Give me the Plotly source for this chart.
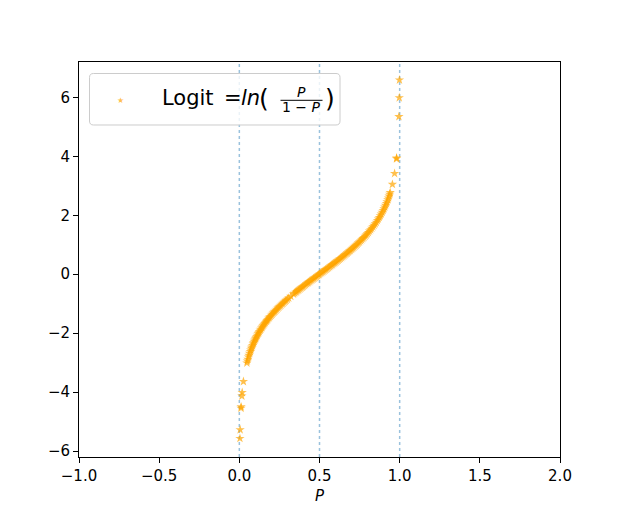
import numpy as np
import plotly.graph_objects as go

# Probabilities (x positions of the stars)
p_values = [
    0.0038, 0.0051, 0.0105, 0.0110, 0.0158, 0.0178, 0.0256,
    0.047, 0.050, 0.053, 0.057, 0.060, 0.064, 0.068, 0.071, 0.075, 0.078,
    0.082, 0.086, 0.089, 0.093, 0.097, 0.101, 0.104, 0.108, 0.112, 0.117,
    0.121, 0.125, 0.130, 0.134, 0.139, 0.143, 0.148, 0.153, 0.158, 0.163,
    0.168, 0.172, 0.177, 0.183, 0.188, 0.193, 0.199, 0.205, 0.211, 0.217,
    0.222, 0.228, 0.234, 0.241, 0.247, 0.253, 0.259, 0.266, 0.272, 0.279,
    0.286, 0.292, 0.300, 0.308, 0.321, 0.338, 0.345, 0.352, 0.358, 0.365,
    0.371, 0.378, 0.385, 0.392, 0.398, 0.405, 0.412, 0.419, 0.426, 0.432,
    0.439, 0.446, 0.453, 0.460, 0.466, 0.473, 0.480, 0.487, 0.494, 0.500,
    0.507, 0.514, 0.521, 0.528, 0.535, 0.541, 0.548, 0.555, 0.562, 0.569,
    0.576, 0.582, 0.589, 0.596, 0.603, 0.610, 0.617, 0.624, 0.631, 0.638,
    0.645, 0.652, 0.659, 0.666, 0.673, 0.680, 0.687, 0.693, 0.700, 0.707,
    0.714, 0.721, 0.728, 0.735, 0.742, 0.749, 0.756, 0.763, 0.770, 0.777,
    0.784, 0.791, 0.798, 0.805, 0.812, 0.819, 0.826, 0.833, 0.840, 0.847,
    0.854, 0.861, 0.867, 0.873, 0.879, 0.885, 0.891, 0.897, 0.902, 0.907,
    0.912, 0.917, 0.921, 0.926, 0.930, 0.934, 0.938, 0.941, 0.9548, 0.9683,
    0.9805, 0.9810, 0.99527, 0.9975, 0.99863,
]
p = np.array(p_values)
logit = np.log(p / (1 - p))

vlines_x = [0.0, 0.5, 1.0]
x_ticks = [-1.0, -0.5, 0.0, 0.5, 1.0, 1.5, 2.0]
x_tick_labels = ["\u22121.0", "\u22120.5", "0.0", "0.5", "1.0", "1.5", "2.0"]
y_ticks = [-6, -4, -2, 0, 2, 4, 6]
y_tick_labels = ["\u22126", "\u22124", "\u22122", "0", "2", "4", "6"]

OFF = 8  # page body margin
W, H = 622 - OFF, 513 - OFF
L, R, T, B = 79, 560, 62, 457   # plot-area edges in page pixels
FONT = "DejaVu Sans"


def px_x(px):
    return (px - L) / (R - L)


def px_y(py):
    return (B - py) / (B - T)


fig = go.Figure()
fig.add_trace(go.Scatter(
    x=p, y=logit, mode="markers",
    marker=dict(symbol="star", size=7, color="rgba(255,165,0,0.7)", line=dict(width=0)),
    showlegend=False, hoverinfo="skip",
))

shapes = []
for xv in vlines_x:
    shapes.append(dict(type="line", xref="x", yref="paper", x0=xv, x1=xv, y0=0, y1=1,
                       line=dict(color="rgba(31,119,180,0.45)", width=1.5, dash="dot"), layer="below"))

r = 4
bxa, bxb, bya, byb = 89.5, 340, 73.5, 125


def conv_path():
    pts = [
        ("M", [(bxa + r, bya)]), ("L", [(bxb - r, bya)]), ("Q", [(bxb, bya), (bxb, bya + r)]),
        ("L", [(bxb, byb - r)]), ("Q", [(bxb, byb), (bxb - r, byb)]), ("L", [(bxa + r, byb)]),
        ("Q", [(bxa, byb), (bxa, byb - r)]), ("L", [(bxa, bya + r)]), ("Q", [(bxa, bya), (bxa + r, bya)]),
    ]
    s = ""
    for cmd, cs in pts:
        s += cmd + " " + " ".join(f"{px_x(a):.5f},{px_y(b):.5f}" for a, b in cs) + " "
    return s + "Z"


shapes.append(dict(type="path", xref="paper", yref="paper", path=conv_path(),
                   fillcolor="rgba(255,255,255,0.8)", line=dict(color="#cccccc", width=1)))
shapes.append(dict(type="line", xref="paper", yref="paper", x0=px_x(280.5), x1=px_x(322.5),
                   y0=px_y(100.3), y1=px_y(100.3), line=dict(color="black", width=1)))

annotations = [
    dict(text="\u2605", x=px_x(120), y=px_y(100.5), font=dict(size=8, color="rgba(255,165,0,0.7)", family=FONT)),
    dict(text="Logit", x=px_x(187.5), y=px_y(97.5), font=dict(size=21, family=FONT)),
    dict(text="=", x=px_x(232.5), y=px_y(98), font=dict(size=21, family=FONT)),
    dict(text="<i>ln</i>", x=px_x(250), y=px_y(97.5), font=dict(size=21, family=FONT)),
    dict(text="(", x=px_x(263.5), y=px_y(98.5), font=dict(size=25, family=FONT)),
    dict(text="<i>P</i>", x=px_x(301.5), y=px_y(92.5), font=dict(size=14, family=FONT)),
    dict(text="1 \u2212 <i>P</i>", x=px_x(301.7), y=px_y(107.5), font=dict(size=14, family=FONT)),
    dict(text=")", x=px_x(329.5), y=px_y(98.5), font=dict(size=25, family=FONT)),
]
for a in annotations:
    a.update(xref="paper", yref="paper", showarrow=False, xanchor="center", yanchor="middle")
    a["font"].setdefault("color", "black")

axis_common = dict(showline=True, linecolor="black", linewidth=1, mirror=True, ticks="outside",
                   ticklen=5, tickwidth=1, tickcolor="black", showgrid=False, zeroline=False,
                   tickfont=dict(size=15, family=FONT, color="black"))

fig.update_layout(
    width=W, height=H,
    margin=dict(l=L - OFF, r=W + OFF - R, t=T - OFF, b=H + OFF - B),
    paper_bgcolor="white", plot_bgcolor="white",
    shapes=shapes, annotations=annotations,
    xaxis=dict(range=[-1, 2], tickvals=x_ticks, ticktext=x_tick_labels,
               title=dict(text="<i>P</i>", font=dict(size=15, family=FONT, color="black"), standoff=6),
               **axis_common),
    yaxis=dict(range=[-6.2, 7.2], tickvals=y_ticks, ticktext=y_tick_labels, **axis_common),
    showlegend=False,
)
fig.write_html("out.html")
